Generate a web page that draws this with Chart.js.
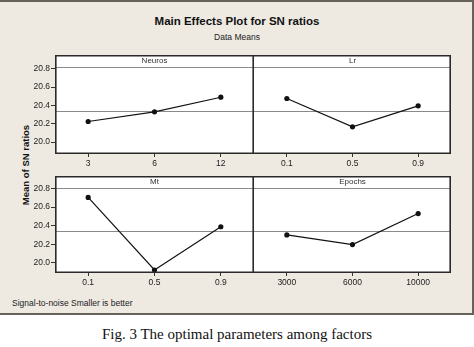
<!DOCTYPE html>
<html><head><meta charset="utf-8">
<script src="https://cdn.jsdelivr.net/npm/chart.js@4.4.1/dist/chart.umd.min.js"></script>
<style>
html,body{margin:0;padding:0;background:#fff;}
body{width:474px;height:347px;position:relative;overflow:hidden;font-family:"Liberation Sans",Arial,sans-serif;}
#frame{position:absolute;left:0;top:0;width:472px;height:311px;background:#eeeae2;border-top:2px solid #67625c;border-right:2px solid #67625c;border-bottom:2px solid #67625c;}
#title{position:absolute;left:0;width:474px;top:15px;text-align:center;font-weight:bold;font-size:11.5px;color:#111;}
#subtitle{position:absolute;left:0;width:474px;top:32px;text-align:center;font-size:8.5px;color:#222;}
#ylab{position:absolute;left:25px;top:165px;transform:translate(-50%,-50%) rotate(-90deg);white-space:nowrap;font-weight:bold;font-size:9.5px;color:#111;}
#foot{position:absolute;left:12px;top:298px;font-size:8.5px;color:#222;white-space:nowrap;}
#caption{position:absolute;left:0;width:474px;top:326px;text-align:center;font-family:"Liberation Serif","Times New Roman",serif;font-size:15px;color:#111;}
canvas{position:absolute;}
</style>
</head><body>
<div id="frame"></div>
<div id="title">Main Effects Plot for SN ratios</div>
<div id="subtitle">Data Means</div>
<div id="ylab">Mean of SN ratios</div>
<div id="foot">Signal-to-noise Smaller is better</div>
<div id="caption">Fig. 3 The optimal parameters among factors</div>
<canvas id="c1" width="234" height="115" style="left:20px;top:55px;width:234px;height:115px"></canvas>
<canvas id="c2" width="197" height="115" style="left:254px;top:55px;width:197px;height:115px"></canvas>
<canvas id="c3" width="234" height="114" style="left:20px;top:176px;width:234px;height:114px"></canvas>
<canvas id="c4" width="197" height="114" style="left:254px;top:176px;width:197px;height:114px"></canvas>
<script>
// ---- data ----
const factorNames = ['Neuros', 'Lr', 'Mt', 'Epochs'];
const neurosLevels = ['3', '6', '12'];
const neurosSN = [20.225, 20.33, 20.49];
const lrLevels = ['0.1', '0.5', '0.9'];
const lrSN = [20.476, 20.167, 20.396];
const mtLevels = ['0.1', '0.5', '0.9'];
const mtSN = [20.704, 19.922, 20.388];
const epochsLevels = ['3000', '6000', '10000'];
const epochsSN = [20.30, 20.196, 20.53];
const yTickValues = [20.0, 20.2, 20.4, 20.6, 20.8];

const allSN = [].concat(neurosSN, lrSN, mtSN, epochsSN);
const grandMean = allSN.reduce((a, b) => a + b, 0) / allSN.length;

const HEADER = 12;
const BW = 1.6;

const panelDeco = {
  id: 'panelDeco',
  beforeDraw(chart, args, o) {
    const a = chart.chartArea, ctx = chart.ctx;
    ctx.save();
    ctx.fillStyle = '#ffffff';
    ctx.fillRect(a.left, a.top - HEADER, a.right - a.left, a.bottom - a.top + HEADER);
    ctx.restore();
  },
  beforeDatasetsDraw(chart) {
    const a = chart.chartArea, ctx = chart.ctx;
    const y = Math.round(chart.scales.y.getPixelForValue(grandMean)) + 0.5;
    ctx.save();
    ctx.strokeStyle = '#8a8a8a';
    ctx.lineWidth = 1.2;
    ctx.beginPath(); ctx.moveTo(a.left, y); ctx.lineTo(a.right, y); ctx.stroke();
    ctx.restore();
  },
  afterDraw(chart, args, o) {
    const a = chart.chartArea, ctx = chart.ctx;
    ctx.save();
    ctx.strokeStyle = '#8a8a8a';
    ctx.lineWidth = 1.2;
    ctx.beginPath(); ctx.moveTo(a.left, a.top + 0.5); ctx.lineTo(a.right, a.top + 0.5); ctx.stroke();
    ctx.fillStyle = '#333';
    ctx.font = '8px "Liberation Sans", Arial, sans-serif';
    ctx.textAlign = 'center'; ctx.textBaseline = 'middle';
    ctx.fillText(o.label, (a.left + a.right) / 2, a.top - HEADER / 2);
    ctx.strokeStyle = '#2a2a2a';
    ctx.lineWidth = BW;
    const h = BW / 2;
    const L = a.left + h, R = a.right - h, T = a.top - HEADER + h, B = a.bottom - h;
    ctx.beginPath();
    ctx.moveTo(a.left, T); ctx.lineTo(R, T); ctx.lineTo(R, B); ctx.lineTo(a.left, B);
    if (o.leftEdge) { ctx.moveTo(L, T); ctx.lineTo(L, B); }
    ctx.stroke();
    ctx.restore();
  }
};

function makePanel(id, name, levels, values, showY, yMin, yMax, xHeight) {
  new Chart(document.getElementById(id), {
    type: 'line',
    data: {
      labels: levels,
      datasets: [{
        data: values,
        borderColor: '#111',
        backgroundColor: '#111',
        borderWidth: 1.2,
        pointRadius: 2.6,
        pointBorderWidth: 0,
        tension: 0,
        clip: false
      }]
    },
    options: {
      responsive: false,
      animation: false,
      events: [],
      layout: { autoPadding: false, padding: { top: HEADER, left: 0, right: 0, bottom: 0 } },
      plugins: {
        legend: { display: false },
        tooltip: { enabled: false },
        title: { display: false },
        panelDeco: { label: name, leftEdge: showY }
      },
      scales: {
        x: {
          type: 'category',
          offset: true,
          border: { display: false },
          grid: { display: true, drawOnChartArea: false, drawTicks: true, tickLength: 3, color: '#333', lineWidth: 1 },
          ticks: { color: '#222', padding: 2, font: { size: 8.5, family: '"Liberation Sans", Arial, sans-serif' }, maxRotation: 0 },
          afterFit(s) { s.height = xHeight; }
        },
        y: {
          display: showY,
          min: yMin, max: yMax,
          border: { display: false },
          grid: { display: true, drawOnChartArea: false, drawTicks: true, tickLength: 4, color: '#333', lineWidth: 1 },
          ticks: { color: '#222', padding: 1, font: { size: 8.5, family: '"Liberation Sans", Arial, sans-serif' },
                   callback: (v) => Number(v).toFixed(1) },
          afterBuildTicks(s) { s.ticks = yTickValues.map(v => ({ value: v })); },
          afterFit(s) { s.width = showY ? 35 : 0; }
        }
      }
    },
    plugins: [panelDeco]
  });
}

makePanel('c1', factorNames[0], neurosLevels, neurosSN, true, 19.87, 20.82, 16);
makePanel('c2', factorNames[1], lrLevels, lrSN, false, 19.87, 20.82, 16);
makePanel('c3', factorNames[2], mtLevels, mtSN, true, 19.89, 20.805, 17);
makePanel('c4', factorNames[3], epochsLevels, epochsSN, false, 19.89, 20.805, 17);
</script>
</body></html>
